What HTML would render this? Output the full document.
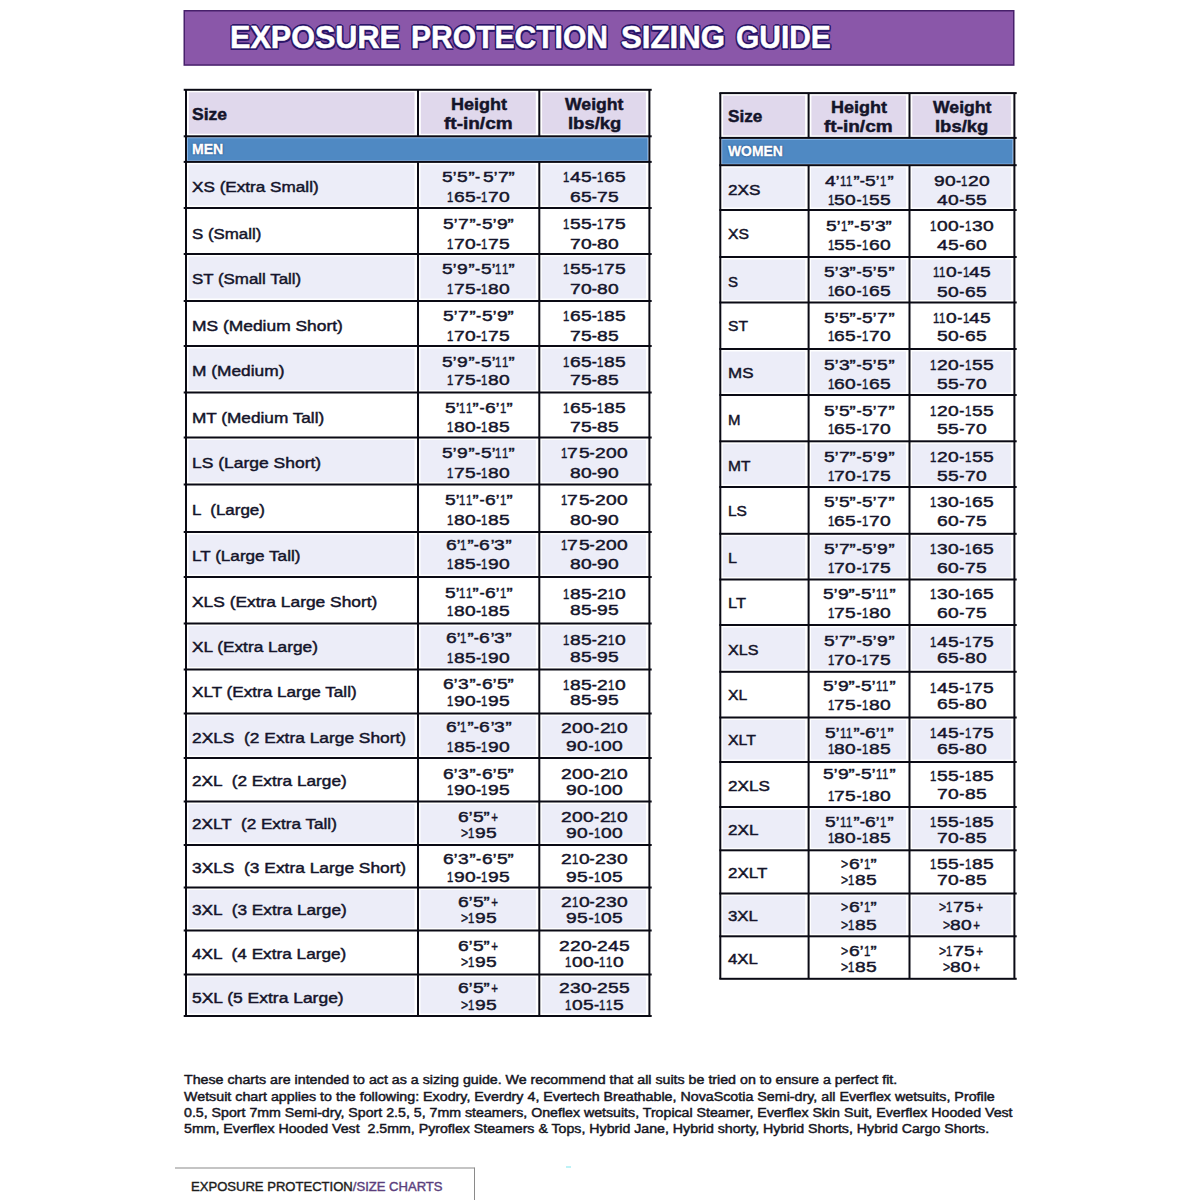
<!DOCTYPE html>
<html lang="en">
<head>
<meta charset="utf-8">
<title>Exposure Protection Sizing Guide</title>
<style>
html,body{margin:0;padding:0;background:#fff;}
body{width:1200px;height:1200px;position:relative;overflow:hidden;font-family:"Liberation Sans", sans-serif;}
#pg{position:absolute;left:0;top:0;width:1200px;height:1200px;}
svg{position:absolute;left:0;top:0;}
.t{position:absolute;white-space:nowrap;font-family:"Liberation Sans", sans-serif;transform-origin:0 50%;}
.n{font-size:15.4px;line-height:19px;height:19px;color:#14142a;white-space:pre;-webkit-text-stroke:0.45px #14142a;}
.n i{display:inline-block;font-style:normal;transform-origin:50% 50%;}
.n .d{transform:scaleX(1.25);margin:0 1.243px}
.n .o{transform:scaleX(0.74);margin:0 -0.982px}
.n .h{transform:scaleX(1.0);margin:0 0.236px}
.n .q{transform:scaleX(1.1);margin:0 0.291px}
.n .Q{transform:scaleX(1.2);margin:0 0.736px}
.n .g{transform:scaleX(0.8);margin:0 -0.797px}
.n .p{transform:scaleX(0.75);margin:0 0.353px}
.n .s{transform:scaleX(1.0);margin:0 -1.139px}
</style>
</head>
<body>
<div id="pg">
<svg width="1200" height="1200" viewBox="0 0 1200 1200">
<rect x="183.50" y="10.00" width="831.00" height="55.80" fill="#47206b" />
<rect x="185.00" y="11.50" width="828.00" height="52.80" fill="#8a57a9" />
<rect x="188.80" y="92.30" width="225.70" height="41.50" fill="#e0d8ec" />
<rect x="420.80" y="92.30" width="115.00" height="41.50" fill="#e0d8ec" />
<rect x="542.10" y="92.30" width="103.80" height="41.50" fill="#e0d8ec" />
<rect x="187.00" y="137.30" width="461.40" height="23.60" fill="#8ab7e8" />
<rect x="188.00" y="138.30" width="459.20" height="22.00" fill="#4f89c3" />
<rect x="188.50" y="164.40" width="226.00" height="41.10" fill="#ecedf8" />
<rect x="420.50" y="164.40" width="115.30" height="41.10" fill="#ecedf8" />
<rect x="541.80" y="164.40" width="104.10" height="41.10" fill="#ecedf8" />
<rect x="188.50" y="256.50" width="226.00" height="42.00" fill="#ecedf8" />
<rect x="420.50" y="256.50" width="115.30" height="42.00" fill="#ecedf8" />
<rect x="541.80" y="256.50" width="104.10" height="42.00" fill="#ecedf8" />
<rect x="188.50" y="348.50" width="226.00" height="41.50" fill="#ecedf8" />
<rect x="420.50" y="348.50" width="115.30" height="41.50" fill="#ecedf8" />
<rect x="541.80" y="348.50" width="104.10" height="41.50" fill="#ecedf8" />
<rect x="188.50" y="440.00" width="226.00" height="42.00" fill="#ecedf8" />
<rect x="420.50" y="440.00" width="115.30" height="42.00" fill="#ecedf8" />
<rect x="541.80" y="440.00" width="104.10" height="42.00" fill="#ecedf8" />
<rect x="188.50" y="534.50" width="226.00" height="40.00" fill="#ecedf8" />
<rect x="420.50" y="534.50" width="115.30" height="40.00" fill="#ecedf8" />
<rect x="541.80" y="534.50" width="104.10" height="40.00" fill="#ecedf8" />
<rect x="188.50" y="626.00" width="226.00" height="41.00" fill="#ecedf8" />
<rect x="420.50" y="626.00" width="115.30" height="41.00" fill="#ecedf8" />
<rect x="541.80" y="626.00" width="104.10" height="41.00" fill="#ecedf8" />
<rect x="188.50" y="716.00" width="226.00" height="39.50" fill="#ecedf8" />
<rect x="420.50" y="716.00" width="115.30" height="39.50" fill="#ecedf8" />
<rect x="541.80" y="716.00" width="104.10" height="39.50" fill="#ecedf8" />
<rect x="188.50" y="804.00" width="226.00" height="38.50" fill="#ecedf8" />
<rect x="420.50" y="804.00" width="115.30" height="38.50" fill="#ecedf8" />
<rect x="541.80" y="804.00" width="104.10" height="38.50" fill="#ecedf8" />
<rect x="188.50" y="890.00" width="226.00" height="38.00" fill="#ecedf8" />
<rect x="420.50" y="890.00" width="115.30" height="38.00" fill="#ecedf8" />
<rect x="541.80" y="890.00" width="104.10" height="38.00" fill="#ecedf8" />
<rect x="188.50" y="977.00" width="226.00" height="36.50" fill="#ecedf8" />
<rect x="420.50" y="977.00" width="115.30" height="36.50" fill="#ecedf8" />
<rect x="541.80" y="977.00" width="104.10" height="36.50" fill="#ecedf8" />
<rect x="183.70" y="88.80" width="468.00" height="2.00" fill="#0a0a14" />
<rect x="183.70" y="135.30" width="468.00" height="2.00" fill="#0a0a14" />
<rect x="183.70" y="160.90" width="468.00" height="2.00" fill="#0a0a14" />
<rect x="183.70" y="207.00" width="468.00" height="2.00" fill="#0a0a14" />
<rect x="183.70" y="253.00" width="468.00" height="2.00" fill="#0a0a14" />
<rect x="183.70" y="300.00" width="468.00" height="2.00" fill="#0a0a14" />
<rect x="183.70" y="345.00" width="468.00" height="2.00" fill="#0a0a14" />
<rect x="183.70" y="391.50" width="468.00" height="2.00" fill="#0a0a14" />
<rect x="183.70" y="436.50" width="468.00" height="2.00" fill="#0a0a14" />
<rect x="183.70" y="483.50" width="468.00" height="2.00" fill="#0a0a14" />
<rect x="183.70" y="531.00" width="468.00" height="2.00" fill="#0a0a14" />
<rect x="183.70" y="576.00" width="468.00" height="2.00" fill="#0a0a14" />
<rect x="183.70" y="622.50" width="468.00" height="2.00" fill="#0a0a14" />
<rect x="183.70" y="668.50" width="468.00" height="2.00" fill="#0a0a14" />
<rect x="183.70" y="712.50" width="468.00" height="2.00" fill="#0a0a14" />
<rect x="183.70" y="757.00" width="468.00" height="2.00" fill="#0a0a14" />
<rect x="183.70" y="800.50" width="468.00" height="2.00" fill="#0a0a14" />
<rect x="183.70" y="844.00" width="468.00" height="2.00" fill="#0a0a14" />
<rect x="183.70" y="886.50" width="468.00" height="2.00" fill="#0a0a14" />
<rect x="183.70" y="929.50" width="468.00" height="2.00" fill="#0a0a14" />
<rect x="183.70" y="973.50" width="468.00" height="2.00" fill="#0a0a14" />
<rect x="183.70" y="1015.00" width="468.00" height="2.00" fill="#0a0a14" />
<rect x="185.00" y="89.80" width="2.00" height="926.20" fill="#0a0a14" />
<rect x="417.00" y="89.80" width="2.00" height="46.50" fill="#0a0a14" />
<rect x="417.00" y="161.90" width="2.00" height="854.10" fill="#0a0a14" />
<rect x="538.30" y="89.80" width="2.00" height="46.50" fill="#0a0a14" />
<rect x="538.30" y="161.90" width="2.00" height="854.10" fill="#0a0a14" />
<rect x="648.40" y="89.80" width="2.00" height="926.20" fill="#0a0a14" />
<rect x="723.10" y="95.60" width="82.00" height="39.80" fill="#e0d8ec" />
<rect x="811.40" y="95.60" width="94.60" height="39.80" fill="#e0d8ec" />
<rect x="912.30" y="95.60" width="98.60" height="39.80" fill="#e0d8ec" />
<rect x="721.30" y="138.90" width="292.10" height="25.30" fill="#8ab7e8" />
<rect x="722.30" y="139.90" width="289.90" height="23.70" fill="#4f89c3" />
<rect x="722.80" y="167.70" width="82.30" height="39.80" fill="#ecedf8" />
<rect x="811.10" y="167.70" width="94.90" height="39.80" fill="#ecedf8" />
<rect x="912.00" y="167.70" width="98.90" height="39.80" fill="#ecedf8" />
<rect x="722.80" y="259.50" width="82.30" height="40.50" fill="#ecedf8" />
<rect x="811.10" y="259.50" width="94.90" height="40.50" fill="#ecedf8" />
<rect x="912.00" y="259.50" width="98.90" height="40.50" fill="#ecedf8" />
<rect x="722.80" y="351.50" width="82.30" height="41.00" fill="#ecedf8" />
<rect x="811.10" y="351.50" width="94.90" height="41.00" fill="#ecedf8" />
<rect x="912.00" y="351.50" width="98.90" height="41.00" fill="#ecedf8" />
<rect x="722.80" y="443.80" width="82.30" height="40.70" fill="#ecedf8" />
<rect x="811.10" y="443.80" width="94.90" height="40.70" fill="#ecedf8" />
<rect x="912.00" y="443.80" width="98.90" height="40.70" fill="#ecedf8" />
<rect x="722.80" y="536.30" width="82.30" height="40.70" fill="#ecedf8" />
<rect x="811.10" y="536.30" width="94.90" height="40.70" fill="#ecedf8" />
<rect x="912.00" y="536.30" width="98.90" height="40.70" fill="#ecedf8" />
<rect x="722.80" y="627.50" width="82.30" height="41.80" fill="#ecedf8" />
<rect x="811.10" y="627.50" width="94.90" height="41.80" fill="#ecedf8" />
<rect x="912.00" y="627.50" width="98.90" height="41.80" fill="#ecedf8" />
<rect x="722.80" y="720.00" width="82.30" height="39.50" fill="#ecedf8" />
<rect x="811.10" y="720.00" width="94.90" height="39.50" fill="#ecedf8" />
<rect x="912.00" y="720.00" width="98.90" height="39.50" fill="#ecedf8" />
<rect x="722.80" y="809.50" width="82.30" height="38.30" fill="#ecedf8" />
<rect x="811.10" y="809.50" width="94.90" height="38.30" fill="#ecedf8" />
<rect x="912.00" y="809.50" width="98.90" height="38.30" fill="#ecedf8" />
<rect x="722.80" y="896.00" width="82.30" height="37.80" fill="#ecedf8" />
<rect x="811.10" y="896.00" width="94.90" height="37.80" fill="#ecedf8" />
<rect x="912.00" y="896.00" width="98.90" height="37.80" fill="#ecedf8" />
<rect x="719.30" y="92.10" width="297.40" height="2.00" fill="#0a0a14" />
<rect x="719.30" y="136.90" width="297.40" height="2.00" fill="#0a0a14" />
<rect x="719.30" y="164.20" width="297.40" height="2.00" fill="#0a0a14" />
<rect x="719.30" y="209.00" width="297.40" height="2.00" fill="#0a0a14" />
<rect x="719.30" y="256.00" width="297.40" height="2.00" fill="#0a0a14" />
<rect x="719.30" y="301.50" width="297.40" height="2.00" fill="#0a0a14" />
<rect x="719.30" y="348.00" width="297.40" height="2.00" fill="#0a0a14" />
<rect x="719.30" y="394.00" width="297.40" height="2.00" fill="#0a0a14" />
<rect x="719.30" y="440.30" width="297.40" height="2.00" fill="#0a0a14" />
<rect x="719.30" y="486.00" width="297.40" height="2.00" fill="#0a0a14" />
<rect x="719.30" y="532.80" width="297.40" height="2.00" fill="#0a0a14" />
<rect x="719.30" y="578.50" width="297.40" height="2.00" fill="#0a0a14" />
<rect x="719.30" y="624.00" width="297.40" height="2.00" fill="#0a0a14" />
<rect x="719.30" y="670.80" width="297.40" height="2.00" fill="#0a0a14" />
<rect x="719.30" y="716.50" width="297.40" height="2.00" fill="#0a0a14" />
<rect x="719.30" y="761.00" width="297.40" height="2.00" fill="#0a0a14" />
<rect x="719.30" y="806.00" width="297.40" height="2.00" fill="#0a0a14" />
<rect x="719.30" y="849.30" width="297.40" height="2.00" fill="#0a0a14" />
<rect x="719.30" y="892.50" width="297.40" height="2.00" fill="#0a0a14" />
<rect x="719.30" y="935.30" width="297.40" height="2.00" fill="#0a0a14" />
<rect x="719.30" y="977.80" width="297.40" height="2.00" fill="#0a0a14" />
<rect x="719.30" y="93.10" width="2.00" height="885.70" fill="#0a0a14" />
<rect x="807.60" y="93.10" width="2.00" height="44.80" fill="#0a0a14" />
<rect x="807.60" y="165.20" width="2.00" height="813.60" fill="#0a0a14" />
<rect x="908.50" y="93.10" width="2.00" height="44.80" fill="#0a0a14" />
<rect x="908.50" y="165.20" width="2.00" height="813.60" fill="#0a0a14" />
<rect x="1013.40" y="93.10" width="2.00" height="885.70" fill="#0a0a14" />
<rect x="175.00" y="1167.50" width="299.50" height="1.00" fill="#8a8a8a" />
<rect x="474.00" y="1167.50" width="1.00" height="33.00" fill="#8a8a8a" />
<rect x="566.00" y="1166.50" width="5.00" height="1.00" fill="#7fe6ee" />
</svg>
<div class="t" style="left:229.70px;top:18px;line-height:38px;height:38px;transform:scaleX(0.9498);font-size:32.2px;font-weight:700;color:#ffffff;-webkit-text-stroke:0.5px #fff;text-shadow:1.5px 1.5px 0 #2a1668,-1.5px -1.5px 0 #2a1668,1.5px -1.5px 0 #2a1668,-1.5px 1.5px 0 #2a1668,0 1.7px 0 #2a1668,1.7px 0 0 #2a1668,-1.7px 0 0 #2a1668,0 -1.7px 0 #2a1668;">EXPOSURE</div>
<div class="t" style="left:411.20px;top:18px;line-height:38px;height:38px;transform:scaleX(0.9338);font-size:32.2px;font-weight:700;color:#ffffff;-webkit-text-stroke:0.5px #fff;text-shadow:1.5px 1.5px 0 #2a1668,-1.5px -1.5px 0 #2a1668,1.5px -1.5px 0 #2a1668,-1.5px 1.5px 0 #2a1668,0 1.7px 0 #2a1668,1.7px 0 0 #2a1668,-1.7px 0 0 #2a1668,0 -1.7px 0 #2a1668;">PROTECTION</div>
<div class="t" style="left:620.50px;top:18px;line-height:38px;height:38px;transform:scaleX(0.9694);font-size:32.2px;font-weight:700;color:#ffffff;-webkit-text-stroke:0.5px #fff;text-shadow:1.5px 1.5px 0 #2a1668,-1.5px -1.5px 0 #2a1668,1.5px -1.5px 0 #2a1668,-1.5px 1.5px 0 #2a1668,0 1.7px 0 #2a1668,1.7px 0 0 #2a1668,-1.7px 0 0 #2a1668,0 -1.7px 0 #2a1668;">SIZING</div>
<div class="t" style="left:735.50px;top:18px;line-height:38px;height:38px;transform:scaleX(0.9302);font-size:32.2px;font-weight:700;color:#ffffff;-webkit-text-stroke:0.5px #fff;text-shadow:1.5px 1.5px 0 #2a1668,-1.5px -1.5px 0 #2a1668,1.5px -1.5px 0 #2a1668,-1.5px 1.5px 0 #2a1668,0 1.7px 0 #2a1668,1.7px 0 0 #2a1668,-1.7px 0 0 #2a1668,0 -1.7px 0 #2a1668;">GUIDE</div>
<div class="t" style="left:192.00px;top:104px;line-height:20px;height:20px;transform:scaleX(1.0606);font-size:16.5px;font-weight:700;color:#14142a;-webkit-text-stroke:0.45px #14142a;">Size</div>
<div class="t" style="left:450.65px;top:94px;line-height:20px;height:20px;transform:scaleX(1.0913);font-size:16.5px;font-weight:700;color:#14142a;-webkit-text-stroke:0.45px #14142a;">Height</div>
<div class="t" style="left:443.85px;top:113px;line-height:20px;height:20px;transform:scaleX(1.1517);font-size:16.5px;font-weight:700;color:#14142a;-webkit-text-stroke:0.45px #14142a;">ft-in/cm</div>
<div class="t" style="left:565.10px;top:94px;line-height:20px;height:20px;transform:scaleX(1.0695);font-size:16.5px;font-weight:700;color:#14142a;-webkit-text-stroke:0.45px #14142a;">Weight</div>
<div class="t" style="left:567.70px;top:113px;line-height:20px;height:20px;transform:scaleX(1.1178);font-size:16.5px;font-weight:700;color:#14142a;-webkit-text-stroke:0.45px #14142a;">lbs/kg</div>
<div class="t" style="left:192.30px;top:140px;line-height:18px;height:18px;transform:scaleX(1.0039);font-size:14.0px;font-weight:700;color:#ffffff;-webkit-text-stroke:0.4px #fff;text-shadow:0 0 2px #17407c,0 0 1.5px #17407c;">MEN</div>
<div class="t" style="left:192.00px;top:177px;line-height:19px;height:19px;transform:scaleX(1.1288);font-size:15.2px;font-weight:400;color:#14142a;white-space:pre;-webkit-text-stroke:0.45px #14142a;">XS (Extra Small)</div>
<div class="t n" style="left:442.15px;top:167px"><i class="d">5</i><i class="q">’</i><i class="d">5</i><i class="Q">”</i><i class="h">-</i><i class="s"> </i><i class="d">5</i><i class="q">’</i><i class="d">7</i><i class="Q">”</i></div>
<div class="t n" style="left:447.15px;top:187px"><i class="o">1</i><i class="d">6</i><i class="d">5</i><i class="h">-</i><i class="o">1</i><i class="d">7</i><i class="d">0</i></div>
<div class="t n" style="left:562.85px;top:167px"><i class="o">1</i><i class="d">4</i><i class="d">5</i><i class="h">-</i><i class="o">1</i><i class="d">6</i><i class="d">5</i></div>
<div class="t n" style="left:569.45px;top:187px"><i class="d">6</i><i class="d">5</i><i class="h">-</i><i class="d">7</i><i class="d">5</i></div>
<div class="t" style="left:192.00px;top:224px;line-height:19px;height:19px;transform:scaleX(1.1109);font-size:15.2px;font-weight:400;color:#14142a;white-space:pre;-webkit-text-stroke:0.45px #14142a;">S (Small)</div>
<div class="t n" style="left:443.15px;top:214px"><i class="d">5</i><i class="q">’</i><i class="d">7</i><i class="Q">”</i><i class="h">-</i><i class="d">5</i><i class="q">’</i><i class="d">9</i><i class="Q">”</i></div>
<div class="t n" style="left:447.15px;top:234px"><i class="o">1</i><i class="d">7</i><i class="d">0</i><i class="h">-</i><i class="o">1</i><i class="d">7</i><i class="d">5</i></div>
<div class="t n" style="left:562.85px;top:214px"><i class="o">1</i><i class="d">5</i><i class="d">5</i><i class="h">-</i><i class="o">1</i><i class="d">7</i><i class="d">5</i></div>
<div class="t n" style="left:569.45px;top:234px"><i class="d">7</i><i class="d">0</i><i class="h">-</i><i class="d">8</i><i class="d">0</i></div>
<div class="t" style="left:192.00px;top:269px;line-height:19px;height:19px;transform:scaleX(1.1123);font-size:15.2px;font-weight:400;color:#14142a;white-space:pre;-webkit-text-stroke:0.45px #14142a;">ST (Small Tall)</div>
<div class="t n" style="left:442.07px;top:259px"><i class="d">5</i><i class="q">’</i><i class="d">9</i><i class="Q">”</i><i class="h">-</i><i class="d">5</i><i class="q">’</i><i class="o">1</i><i class="o">1</i><i class="Q">”</i></div>
<div class="t n" style="left:447.15px;top:279px"><i class="o">1</i><i class="d">7</i><i class="d">5</i><i class="h">-</i><i class="o">1</i><i class="d">8</i><i class="d">0</i></div>
<div class="t n" style="left:562.85px;top:259px"><i class="o">1</i><i class="d">5</i><i class="d">5</i><i class="h">-</i><i class="o">1</i><i class="d">7</i><i class="d">5</i></div>
<div class="t n" style="left:569.45px;top:279px"><i class="d">7</i><i class="d">0</i><i class="h">-</i><i class="d">8</i><i class="d">0</i></div>
<div class="t" style="left:192.00px;top:316px;line-height:19px;height:19px;transform:scaleX(1.1458);font-size:15.2px;font-weight:400;color:#14142a;white-space:pre;-webkit-text-stroke:0.45px #14142a;">MS (Medium Short)</div>
<div class="t n" style="left:443.15px;top:306px"><i class="d">5</i><i class="q">’</i><i class="d">7</i><i class="Q">”</i><i class="h">-</i><i class="d">5</i><i class="q">’</i><i class="d">9</i><i class="Q">”</i></div>
<div class="t n" style="left:447.15px;top:326px"><i class="o">1</i><i class="d">7</i><i class="d">0</i><i class="h">-</i><i class="o">1</i><i class="d">7</i><i class="d">5</i></div>
<div class="t n" style="left:562.85px;top:306px"><i class="o">1</i><i class="d">6</i><i class="d">5</i><i class="h">-</i><i class="o">1</i><i class="d">8</i><i class="d">5</i></div>
<div class="t n" style="left:569.45px;top:326px"><i class="d">7</i><i class="d">5</i><i class="h">-</i><i class="d">8</i><i class="d">5</i></div>
<div class="t" style="left:192.00px;top:361px;line-height:19px;height:19px;transform:scaleX(1.1407);font-size:15.2px;font-weight:400;color:#14142a;white-space:pre;-webkit-text-stroke:0.45px #14142a;">M (Medium)</div>
<div class="t n" style="left:442.07px;top:352px"><i class="d">5</i><i class="q">’</i><i class="d">9</i><i class="Q">”</i><i class="h">-</i><i class="d">5</i><i class="q">’</i><i class="o">1</i><i class="o">1</i><i class="Q">”</i></div>
<div class="t n" style="left:447.15px;top:370px"><i class="o">1</i><i class="d">7</i><i class="d">5</i><i class="h">-</i><i class="o">1</i><i class="d">8</i><i class="d">0</i></div>
<div class="t n" style="left:562.85px;top:352px"><i class="o">1</i><i class="d">6</i><i class="d">5</i><i class="h">-</i><i class="o">1</i><i class="d">8</i><i class="d">5</i></div>
<div class="t n" style="left:569.45px;top:370px"><i class="d">7</i><i class="d">5</i><i class="h">-</i><i class="d">8</i><i class="d">5</i></div>
<div class="t" style="left:192.00px;top:408px;line-height:19px;height:19px;transform:scaleX(1.1326);font-size:15.2px;font-weight:400;color:#14142a;white-space:pre;-webkit-text-stroke:0.45px #14142a;">MT (Medium Tall)</div>
<div class="t n" style="left:444.30px;top:398px"><i class="d">5</i><i class="q">’</i><i class="o">1</i><i class="o">1</i><i class="Q">”</i><i class="h">-</i><i class="d">6</i><i class="q">’</i><i class="o">1</i><i class="Q">”</i></div>
<div class="t n" style="left:447.15px;top:417px"><i class="o">1</i><i class="d">8</i><i class="d">0</i><i class="h">-</i><i class="o">1</i><i class="d">8</i><i class="d">5</i></div>
<div class="t n" style="left:562.85px;top:398px"><i class="o">1</i><i class="d">6</i><i class="d">5</i><i class="h">-</i><i class="o">1</i><i class="d">8</i><i class="d">5</i></div>
<div class="t n" style="left:569.45px;top:417px"><i class="d">7</i><i class="d">5</i><i class="h">-</i><i class="d">8</i><i class="d">5</i></div>
<div class="t" style="left:192.00px;top:453px;line-height:19px;height:19px;transform:scaleX(1.1503);font-size:15.2px;font-weight:400;color:#14142a;white-space:pre;-webkit-text-stroke:0.45px #14142a;">LS (Large Short)</div>
<div class="t n" style="left:442.07px;top:443px"><i class="d">5</i><i class="q">’</i><i class="d">9</i><i class="Q">”</i><i class="h">-</i><i class="d">5</i><i class="q">’</i><i class="o">1</i><i class="o">1</i><i class="Q">”</i></div>
<div class="t n" style="left:447.15px;top:463px"><i class="o">1</i><i class="d">7</i><i class="d">5</i><i class="h">-</i><i class="o">1</i><i class="d">8</i><i class="d">0</i></div>
<div class="t n" style="left:560.62px;top:443px"><i class="o">1</i><i class="d">7</i><i class="d">5</i><i class="h">-</i><i class="d">2</i><i class="d">0</i><i class="d">0</i></div>
<div class="t n" style="left:569.45px;top:463px"><i class="d">8</i><i class="d">0</i><i class="h">-</i><i class="d">9</i><i class="d">0</i></div>
<div class="t" style="left:192.00px;top:500px;line-height:19px;height:19px;transform:scaleX(1.1169);font-size:15.2px;font-weight:400;color:#14142a;white-space:pre;-webkit-text-stroke:0.45px #14142a;">L  (Large)</div>
<div class="t n" style="left:444.30px;top:490px"><i class="d">5</i><i class="q">’</i><i class="o">1</i><i class="o">1</i><i class="Q">”</i><i class="h">-</i><i class="d">6</i><i class="q">’</i><i class="o">1</i><i class="Q">”</i></div>
<div class="t n" style="left:447.15px;top:510px"><i class="o">1</i><i class="d">8</i><i class="d">0</i><i class="h">-</i><i class="o">1</i><i class="d">8</i><i class="d">5</i></div>
<div class="t n" style="left:560.62px;top:490px"><i class="o">1</i><i class="d">7</i><i class="d">5</i><i class="h">-</i><i class="d">2</i><i class="d">0</i><i class="d">0</i></div>
<div class="t n" style="left:569.45px;top:510px"><i class="d">8</i><i class="d">0</i><i class="h">-</i><i class="d">9</i><i class="d">0</i></div>
<div class="t" style="left:192.00px;top:546px;line-height:19px;height:19px;transform:scaleX(1.1268);font-size:15.2px;font-weight:400;color:#14142a;white-space:pre;-webkit-text-stroke:0.45px #14142a;">LT (Large Tall)</div>
<div class="t n" style="left:445.38px;top:535px"><i class="d">6</i><i class="q">’</i><i class="o">1</i><i class="Q">”</i><i class="h">-</i><i class="d">6</i><i class="q">’</i><i class="d">3</i><i class="Q">”</i></div>
<div class="t n" style="left:447.15px;top:554px"><i class="o">1</i><i class="d">8</i><i class="d">5</i><i class="h">-</i><i class="o">1</i><i class="d">9</i><i class="d">0</i></div>
<div class="t n" style="left:560.62px;top:535px"><i class="o">1</i><i class="d">7</i><i class="d">5</i><i class="h">-</i><i class="d">2</i><i class="d">0</i><i class="d">0</i></div>
<div class="t n" style="left:569.45px;top:554px"><i class="d">8</i><i class="d">0</i><i class="h">-</i><i class="d">9</i><i class="d">0</i></div>
<div class="t" style="left:192.00px;top:592px;line-height:19px;height:19px;transform:scaleX(1.1438);font-size:15.2px;font-weight:400;color:#14142a;white-space:pre;-webkit-text-stroke:0.45px #14142a;">XLS (Extra Large Short)</div>
<div class="t n" style="left:444.30px;top:583px"><i class="d">5</i><i class="q">’</i><i class="o">1</i><i class="o">1</i><i class="Q">”</i><i class="h">-</i><i class="d">6</i><i class="q">’</i><i class="o">1</i><i class="Q">”</i></div>
<div class="t n" style="left:447.15px;top:601px"><i class="o">1</i><i class="d">8</i><i class="d">0</i><i class="h">-</i><i class="o">1</i><i class="d">8</i><i class="d">5</i></div>
<div class="t n" style="left:562.85px;top:584px"><i class="o">1</i><i class="d">8</i><i class="d">5</i><i class="h">-</i><i class="d">2</i><i class="o">1</i><i class="d">0</i></div>
<div class="t n" style="left:569.45px;top:600px"><i class="d">8</i><i class="d">5</i><i class="h">-</i><i class="d">9</i><i class="d">5</i></div>
<div class="t" style="left:192.00px;top:637px;line-height:19px;height:19px;transform:scaleX(1.1355);font-size:15.2px;font-weight:400;color:#14142a;white-space:pre;-webkit-text-stroke:0.45px #14142a;">XL (Extra Large)</div>
<div class="t n" style="left:445.38px;top:628px"><i class="d">6</i><i class="q">’</i><i class="o">1</i><i class="Q">”</i><i class="h">-</i><i class="d">6</i><i class="q">’</i><i class="d">3</i><i class="Q">”</i></div>
<div class="t n" style="left:447.15px;top:648px"><i class="o">1</i><i class="d">8</i><i class="d">5</i><i class="h">-</i><i class="o">1</i><i class="d">9</i><i class="d">0</i></div>
<div class="t n" style="left:562.85px;top:630px"><i class="o">1</i><i class="d">8</i><i class="d">5</i><i class="h">-</i><i class="d">2</i><i class="o">1</i><i class="d">0</i></div>
<div class="t n" style="left:569.45px;top:647px"><i class="d">8</i><i class="d">5</i><i class="h">-</i><i class="d">9</i><i class="d">5</i></div>
<div class="t" style="left:192.00px;top:682px;line-height:19px;height:19px;transform:scaleX(1.1276);font-size:15.2px;font-weight:400;color:#14142a;white-space:pre;-webkit-text-stroke:0.45px #14142a;">XLT (Extra Large Tall)</div>
<div class="t n" style="left:443.15px;top:674px"><i class="d">6</i><i class="q">’</i><i class="d">3</i><i class="Q">”</i><i class="h">-</i><i class="d">6</i><i class="q">’</i><i class="d">5</i><i class="Q">”</i></div>
<div class="t n" style="left:447.15px;top:691px"><i class="o">1</i><i class="d">9</i><i class="d">0</i><i class="h">-</i><i class="o">1</i><i class="d">9</i><i class="d">5</i></div>
<div class="t n" style="left:562.85px;top:675px"><i class="o">1</i><i class="d">8</i><i class="d">5</i><i class="h">-</i><i class="d">2</i><i class="o">1</i><i class="d">0</i></div>
<div class="t n" style="left:569.45px;top:690px"><i class="d">8</i><i class="d">5</i><i class="h">-</i><i class="d">9</i><i class="d">5</i></div>
<div class="t" style="left:192.00px;top:728px;line-height:19px;height:19px;transform:scaleX(1.1425);font-size:15.2px;font-weight:400;color:#14142a;white-space:pre;-webkit-text-stroke:0.45px #14142a;">2XLS  (2 Extra Large Short)</div>
<div class="t n" style="left:445.38px;top:717px"><i class="d">6</i><i class="q">’</i><i class="o">1</i><i class="Q">”</i><i class="h">-</i><i class="d">6</i><i class="q">’</i><i class="d">3</i><i class="Q">”</i></div>
<div class="t n" style="left:447.15px;top:737px"><i class="o">1</i><i class="d">8</i><i class="d">5</i><i class="h">-</i><i class="o">1</i><i class="d">9</i><i class="d">0</i></div>
<div class="t n" style="left:560.62px;top:718px"><i class="d">2</i><i class="d">0</i><i class="d">0</i><i class="h">-</i><i class="d">2</i><i class="o">1</i><i class="d">0</i></div>
<div class="t n" style="left:566.15px;top:736px"><i class="d">9</i><i class="d">0</i><i class="h">-</i><i class="o">1</i><i class="d">0</i><i class="d">0</i></div>
<div class="t" style="left:192.00px;top:771px;line-height:19px;height:19px;transform:scaleX(1.1368);font-size:15.2px;font-weight:400;color:#14142a;white-space:pre;-webkit-text-stroke:0.45px #14142a;">2XL  (2 Extra Large)</div>
<div class="t n" style="left:443.15px;top:764px"><i class="d">6</i><i class="q">’</i><i class="d">3</i><i class="Q">”</i><i class="h">-</i><i class="d">6</i><i class="q">’</i><i class="d">5</i><i class="Q">”</i></div>
<div class="t n" style="left:447.15px;top:780px"><i class="o">1</i><i class="d">9</i><i class="d">0</i><i class="h">-</i><i class="o">1</i><i class="d">9</i><i class="d">5</i></div>
<div class="t n" style="left:560.62px;top:764px"><i class="d">2</i><i class="d">0</i><i class="d">0</i><i class="h">-</i><i class="d">2</i><i class="o">1</i><i class="d">0</i></div>
<div class="t n" style="left:566.15px;top:780px"><i class="d">9</i><i class="d">0</i><i class="h">-</i><i class="o">1</i><i class="d">0</i><i class="d">0</i></div>
<div class="t" style="left:192.00px;top:814px;line-height:19px;height:19px;transform:scaleX(1.1289);font-size:15.2px;font-weight:400;color:#14142a;white-space:pre;-webkit-text-stroke:0.45px #14142a;">2XLT  (2 Extra Tall)</div>
<div class="t n" style="left:457.45px;top:807px"><i class="d">6</i><i class="q">’</i><i class="d">5</i><i class="Q">”</i><i class="p">+</i></div>
<div class="t n" style="left:460.60px;top:823px"><i class="g">&gt;</i><i class="o">1</i><i class="d">9</i><i class="d">5</i></div>
<div class="t n" style="left:560.62px;top:807px"><i class="d">2</i><i class="d">0</i><i class="d">0</i><i class="h">-</i><i class="d">2</i><i class="o">1</i><i class="d">0</i></div>
<div class="t n" style="left:566.15px;top:823px"><i class="d">9</i><i class="d">0</i><i class="h">-</i><i class="o">1</i><i class="d">0</i><i class="d">0</i></div>
<div class="t" style="left:192.00px;top:858px;line-height:19px;height:19px;transform:scaleX(1.1425);font-size:15.2px;font-weight:400;color:#14142a;white-space:pre;-webkit-text-stroke:0.45px #14142a;">3XLS  (3 Extra Large Short)</div>
<div class="t n" style="left:443.15px;top:849px"><i class="d">6</i><i class="q">’</i><i class="d">3</i><i class="Q">”</i><i class="h">-</i><i class="d">6</i><i class="q">’</i><i class="d">5</i><i class="Q">”</i></div>
<div class="t n" style="left:447.15px;top:867px"><i class="o">1</i><i class="d">9</i><i class="d">0</i><i class="h">-</i><i class="o">1</i><i class="d">9</i><i class="d">5</i></div>
<div class="t n" style="left:560.62px;top:849px"><i class="d">2</i><i class="o">1</i><i class="d">0</i><i class="h">-</i><i class="d">2</i><i class="d">3</i><i class="d">0</i></div>
<div class="t n" style="left:566.15px;top:867px"><i class="d">9</i><i class="d">5</i><i class="h">-</i><i class="o">1</i><i class="d">0</i><i class="d">5</i></div>
<div class="t" style="left:192.00px;top:900px;line-height:19px;height:19px;transform:scaleX(1.1368);font-size:15.2px;font-weight:400;color:#14142a;white-space:pre;-webkit-text-stroke:0.45px #14142a;">3XL  (3 Extra Large)</div>
<div class="t n" style="left:457.45px;top:892px"><i class="d">6</i><i class="q">’</i><i class="d">5</i><i class="Q">”</i><i class="p">+</i></div>
<div class="t n" style="left:460.60px;top:908px"><i class="g">&gt;</i><i class="o">1</i><i class="d">9</i><i class="d">5</i></div>
<div class="t n" style="left:560.62px;top:892px"><i class="d">2</i><i class="o">1</i><i class="d">0</i><i class="h">-</i><i class="d">2</i><i class="d">3</i><i class="d">0</i></div>
<div class="t n" style="left:566.15px;top:908px"><i class="d">9</i><i class="d">5</i><i class="h">-</i><i class="o">1</i><i class="d">0</i><i class="d">5</i></div>
<div class="t" style="left:192.00px;top:944px;line-height:19px;height:19px;transform:scaleX(1.1332);font-size:15.2px;font-weight:400;color:#14142a;white-space:pre;-webkit-text-stroke:0.45px #14142a;">4XL  (4 Extra Large)</div>
<div class="t n" style="left:457.45px;top:936px"><i class="d">6</i><i class="q">’</i><i class="d">5</i><i class="Q">”</i><i class="p">+</i></div>
<div class="t n" style="left:460.60px;top:952px"><i class="g">&gt;</i><i class="o">1</i><i class="d">9</i><i class="d">5</i></div>
<div class="t n" style="left:558.40px;top:936px"><i class="d">2</i><i class="d">2</i><i class="d">0</i><i class="h">-</i><i class="d">2</i><i class="d">4</i><i class="d">5</i></div>
<div class="t n" style="left:565.07px;top:952px"><i class="o">1</i><i class="d">0</i><i class="d">0</i><i class="h">-</i><i class="o">1</i><i class="o">1</i><i class="d">0</i></div>
<div class="t" style="left:192.00px;top:988px;line-height:19px;height:19px;transform:scaleX(1.1492);font-size:15.2px;font-weight:400;color:#14142a;white-space:pre;-webkit-text-stroke:0.45px #14142a;">5XL (5 Extra Large)</div>
<div class="t n" style="left:457.45px;top:978px"><i class="d">6</i><i class="q">’</i><i class="d">5</i><i class="Q">”</i><i class="p">+</i></div>
<div class="t n" style="left:460.60px;top:995px"><i class="g">&gt;</i><i class="o">1</i><i class="d">9</i><i class="d">5</i></div>
<div class="t n" style="left:558.40px;top:978px"><i class="d">2</i><i class="d">3</i><i class="d">0</i><i class="h">-</i><i class="d">2</i><i class="d">5</i><i class="d">5</i></div>
<div class="t n" style="left:565.07px;top:995px"><i class="o">1</i><i class="d">0</i><i class="d">5</i><i class="h">-</i><i class="o">1</i><i class="o">1</i><i class="d">5</i></div>
<div class="t" style="left:728.00px;top:106px;line-height:20px;height:20px;transform:scaleX(1.0394);font-size:16.5px;font-weight:700;color:#14142a;-webkit-text-stroke:0.45px #14142a;">Size</div>
<div class="t" style="left:831.05px;top:97px;line-height:20px;height:20px;transform:scaleX(1.0913);font-size:16.5px;font-weight:700;color:#14142a;-webkit-text-stroke:0.45px #14142a;">Height</div>
<div class="t" style="left:824.25px;top:116px;line-height:20px;height:20px;transform:scaleX(1.1517);font-size:16.5px;font-weight:700;color:#14142a;-webkit-text-stroke:0.45px #14142a;">ft-in/cm</div>
<div class="t" style="left:932.70px;top:97px;line-height:20px;height:20px;transform:scaleX(1.0695);font-size:16.5px;font-weight:700;color:#14142a;-webkit-text-stroke:0.45px #14142a;">Weight</div>
<div class="t" style="left:935.30px;top:116px;line-height:20px;height:20px;transform:scaleX(1.1178);font-size:16.5px;font-weight:700;color:#14142a;-webkit-text-stroke:0.45px #14142a;">lbs/kg</div>
<div class="t" style="left:727.50px;top:142px;line-height:18px;height:18px;transform:scaleX(0.9922);font-size:14.0px;font-weight:700;color:#ffffff;-webkit-text-stroke:0.4px #fff;text-shadow:0 0 2px #17407c,0 0 1.5px #17407c;">WOMEN</div>
<div class="t" style="left:728.00px;top:180px;line-height:19px;height:19px;transform:scaleX(1.1313);font-size:15.2px;font-weight:400;color:#14142a;white-space:pre;-webkit-text-stroke:0.45px #14142a;">2XS</div>
<div class="t n" style="left:824.70px;top:171px"><i class="d">4</i><i class="q">’</i><i class="o">1</i><i class="o">1</i><i class="Q">”</i><i class="h">-</i><i class="d">5</i><i class="q">’</i><i class="o">1</i><i class="Q">”</i></div>
<div class="t n" style="left:827.55px;top:190px"><i class="o">1</i><i class="d">5</i><i class="d">0</i><i class="h">-</i><i class="o">1</i><i class="d">5</i><i class="d">5</i></div>
<div class="t n" style="left:933.75px;top:171px"><i class="d">9</i><i class="d">0</i><i class="h">-</i><i class="o">1</i><i class="d">2</i><i class="d">0</i></div>
<div class="t n" style="left:937.05px;top:190px"><i class="d">4</i><i class="d">0</i><i class="h">-</i><i class="d">5</i><i class="d">5</i></div>
<div class="t" style="left:728.00px;top:224px;line-height:19px;height:19px;transform:scaleX(1.0349);font-size:15.2px;font-weight:400;color:#14142a;white-space:pre;-webkit-text-stroke:0.45px #14142a;">XS</div>
<div class="t n" style="left:825.77px;top:216px"><i class="d">5</i><i class="q">’</i><i class="o">1</i><i class="Q">”</i><i class="h">-</i><i class="d">5</i><i class="q">’</i><i class="d">3</i><i class="Q">”</i></div>
<div class="t n" style="left:827.55px;top:235px"><i class="o">1</i><i class="d">5</i><i class="d">5</i><i class="h">-</i><i class="o">1</i><i class="d">6</i><i class="d">0</i></div>
<div class="t n" style="left:930.45px;top:216px"><i class="o">1</i><i class="d">0</i><i class="d">0</i><i class="h">-</i><i class="o">1</i><i class="d">3</i><i class="d">0</i></div>
<div class="t n" style="left:937.05px;top:235px"><i class="d">4</i><i class="d">5</i><i class="h">-</i><i class="d">6</i><i class="d">0</i></div>
<div class="t" style="left:728.00px;top:272px;line-height:19px;height:19px;transform:scaleX(0.9893);font-size:15.2px;font-weight:400;color:#14142a;white-space:pre;-webkit-text-stroke:0.45px #14142a;">S</div>
<div class="t n" style="left:823.55px;top:262px"><i class="d">5</i><i class="q">’</i><i class="d">3</i><i class="Q">”</i><i class="h">-</i><i class="d">5</i><i class="q">’</i><i class="d">5</i><i class="Q">”</i></div>
<div class="t n" style="left:827.55px;top:281px"><i class="o">1</i><i class="d">6</i><i class="d">0</i><i class="h">-</i><i class="o">1</i><i class="d">6</i><i class="d">5</i></div>
<div class="t n" style="left:932.68px;top:262px"><i class="o">1</i><i class="o">1</i><i class="d">0</i><i class="h">-</i><i class="o">1</i><i class="d">4</i><i class="d">5</i></div>
<div class="t n" style="left:937.05px;top:282px"><i class="d">5</i><i class="d">0</i><i class="h">-</i><i class="d">6</i><i class="d">5</i></div>
<div class="t" style="left:728.00px;top:316px;line-height:19px;height:19px;transform:scaleX(1.0280);font-size:15.2px;font-weight:400;color:#14142a;white-space:pre;-webkit-text-stroke:0.45px #14142a;">ST</div>
<div class="t n" style="left:823.55px;top:308px"><i class="d">5</i><i class="q">’</i><i class="d">5</i><i class="Q">”</i><i class="h">-</i><i class="d">5</i><i class="q">’</i><i class="d">7</i><i class="Q">”</i></div>
<div class="t n" style="left:827.55px;top:326px"><i class="o">1</i><i class="d">6</i><i class="d">5</i><i class="h">-</i><i class="o">1</i><i class="d">7</i><i class="d">0</i></div>
<div class="t n" style="left:932.68px;top:308px"><i class="o">1</i><i class="o">1</i><i class="d">0</i><i class="h">-</i><i class="o">1</i><i class="d">4</i><i class="d">5</i></div>
<div class="t n" style="left:937.05px;top:326px"><i class="d">5</i><i class="d">0</i><i class="h">-</i><i class="d">6</i><i class="d">5</i></div>
<div class="t" style="left:728.00px;top:363px;line-height:19px;height:19px;transform:scaleX(1.1184);font-size:15.2px;font-weight:400;color:#14142a;white-space:pre;-webkit-text-stroke:0.45px #14142a;">MS</div>
<div class="t n" style="left:823.55px;top:355px"><i class="d">5</i><i class="q">’</i><i class="d">3</i><i class="Q">”</i><i class="h">-</i><i class="d">5</i><i class="q">’</i><i class="d">5</i><i class="Q">”</i></div>
<div class="t n" style="left:827.55px;top:374px"><i class="o">1</i><i class="d">6</i><i class="d">0</i><i class="h">-</i><i class="o">1</i><i class="d">6</i><i class="d">5</i></div>
<div class="t n" style="left:930.45px;top:355px"><i class="o">1</i><i class="d">2</i><i class="d">0</i><i class="h">-</i><i class="o">1</i><i class="d">5</i><i class="d">5</i></div>
<div class="t n" style="left:937.05px;top:374px"><i class="d">5</i><i class="d">5</i><i class="h">-</i><i class="d">7</i><i class="d">0</i></div>
<div class="t" style="left:728.00px;top:410px;line-height:19px;height:19px;transform:scaleX(0.9849);font-size:15.2px;font-weight:400;color:#14142a;white-space:pre;-webkit-text-stroke:0.45px #14142a;">M</div>
<div class="t n" style="left:823.55px;top:401px"><i class="d">5</i><i class="q">’</i><i class="d">5</i><i class="Q">”</i><i class="h">-</i><i class="d">5</i><i class="q">’</i><i class="d">7</i><i class="Q">”</i></div>
<div class="t n" style="left:827.55px;top:419px"><i class="o">1</i><i class="d">6</i><i class="d">5</i><i class="h">-</i><i class="o">1</i><i class="d">7</i><i class="d">0</i></div>
<div class="t n" style="left:930.45px;top:401px"><i class="o">1</i><i class="d">2</i><i class="d">0</i><i class="h">-</i><i class="o">1</i><i class="d">5</i><i class="d">5</i></div>
<div class="t n" style="left:937.05px;top:419px"><i class="d">5</i><i class="d">5</i><i class="h">-</i><i class="d">7</i><i class="d">0</i></div>
<div class="t" style="left:728.00px;top:456px;line-height:19px;height:19px;transform:scaleX(1.0244);font-size:15.2px;font-weight:400;color:#14142a;white-space:pre;-webkit-text-stroke:0.45px #14142a;">MT</div>
<div class="t n" style="left:823.55px;top:447px"><i class="d">5</i><i class="q">’</i><i class="d">7</i><i class="Q">”</i><i class="h">-</i><i class="d">5</i><i class="q">’</i><i class="d">9</i><i class="Q">”</i></div>
<div class="t n" style="left:827.55px;top:466px"><i class="o">1</i><i class="d">7</i><i class="d">0</i><i class="h">-</i><i class="o">1</i><i class="d">7</i><i class="d">5</i></div>
<div class="t n" style="left:930.45px;top:447px"><i class="o">1</i><i class="d">2</i><i class="d">0</i><i class="h">-</i><i class="o">1</i><i class="d">5</i><i class="d">5</i></div>
<div class="t n" style="left:937.05px;top:466px"><i class="d">5</i><i class="d">5</i><i class="h">-</i><i class="d">7</i><i class="d">0</i></div>
<div class="t" style="left:728.00px;top:501px;line-height:19px;height:19px;transform:scaleX(1.0204);font-size:15.2px;font-weight:400;color:#14142a;white-space:pre;-webkit-text-stroke:0.45px #14142a;">LS</div>
<div class="t n" style="left:823.55px;top:492px"><i class="d">5</i><i class="q">’</i><i class="d">5</i><i class="Q">”</i><i class="h">-</i><i class="d">5</i><i class="q">’</i><i class="d">7</i><i class="Q">”</i></div>
<div class="t n" style="left:827.55px;top:511px"><i class="o">1</i><i class="d">6</i><i class="d">5</i><i class="h">-</i><i class="o">1</i><i class="d">7</i><i class="d">0</i></div>
<div class="t n" style="left:930.45px;top:492px"><i class="o">1</i><i class="d">3</i><i class="d">0</i><i class="h">-</i><i class="o">1</i><i class="d">6</i><i class="d">5</i></div>
<div class="t n" style="left:937.05px;top:511px"><i class="d">6</i><i class="d">0</i><i class="h">-</i><i class="d">7</i><i class="d">5</i></div>
<div class="t" style="left:728.00px;top:548px;line-height:19px;height:19px;transform:scaleX(1.0669);font-size:15.2px;font-weight:400;color:#14142a;white-space:pre;-webkit-text-stroke:0.45px #14142a;">L</div>
<div class="t n" style="left:823.55px;top:539px"><i class="d">5</i><i class="q">’</i><i class="d">7</i><i class="Q">”</i><i class="h">-</i><i class="d">5</i><i class="q">’</i><i class="d">9</i><i class="Q">”</i></div>
<div class="t n" style="left:827.55px;top:558px"><i class="o">1</i><i class="d">7</i><i class="d">0</i><i class="h">-</i><i class="o">1</i><i class="d">7</i><i class="d">5</i></div>
<div class="t n" style="left:930.45px;top:539px"><i class="o">1</i><i class="d">3</i><i class="d">0</i><i class="h">-</i><i class="o">1</i><i class="d">6</i><i class="d">5</i></div>
<div class="t n" style="left:937.05px;top:558px"><i class="d">6</i><i class="d">0</i><i class="h">-</i><i class="d">7</i><i class="d">5</i></div>
<div class="t" style="left:728.00px;top:593px;line-height:19px;height:19px;transform:scaleX(1.0815);font-size:15.2px;font-weight:400;color:#14142a;white-space:pre;-webkit-text-stroke:0.45px #14142a;">LT</div>
<div class="t n" style="left:822.47px;top:584px"><i class="d">5</i><i class="q">’</i><i class="d">9</i><i class="Q">”</i><i class="h">-</i><i class="d">5</i><i class="q">’</i><i class="o">1</i><i class="o">1</i><i class="Q">”</i></div>
<div class="t n" style="left:827.55px;top:603px"><i class="o">1</i><i class="d">7</i><i class="d">5</i><i class="h">-</i><i class="o">1</i><i class="d">8</i><i class="d">0</i></div>
<div class="t n" style="left:930.45px;top:584px"><i class="o">1</i><i class="d">3</i><i class="d">0</i><i class="h">-</i><i class="o">1</i><i class="d">6</i><i class="d">5</i></div>
<div class="t n" style="left:937.05px;top:603px"><i class="d">6</i><i class="d">0</i><i class="h">-</i><i class="d">7</i><i class="d">5</i></div>
<div class="t" style="left:728.00px;top:640px;line-height:19px;height:19px;transform:scaleX(1.0617);font-size:15.2px;font-weight:400;color:#14142a;white-space:pre;-webkit-text-stroke:0.45px #14142a;">XLS</div>
<div class="t n" style="left:823.55px;top:631px"><i class="d">5</i><i class="q">’</i><i class="d">7</i><i class="Q">”</i><i class="h">-</i><i class="d">5</i><i class="q">’</i><i class="d">9</i><i class="Q">”</i></div>
<div class="t n" style="left:827.55px;top:650px"><i class="o">1</i><i class="d">7</i><i class="d">0</i><i class="h">-</i><i class="o">1</i><i class="d">7</i><i class="d">5</i></div>
<div class="t n" style="left:930.45px;top:632px"><i class="o">1</i><i class="d">4</i><i class="d">5</i><i class="h">-</i><i class="o">1</i><i class="d">7</i><i class="d">5</i></div>
<div class="t n" style="left:937.05px;top:648px"><i class="d">6</i><i class="d">5</i><i class="h">-</i><i class="d">8</i><i class="d">0</i></div>
<div class="t" style="left:728.00px;top:685px;line-height:19px;height:19px;transform:scaleX(1.0365);font-size:15.2px;font-weight:400;color:#14142a;white-space:pre;-webkit-text-stroke:0.45px #14142a;">XL</div>
<div class="t n" style="left:822.47px;top:676px"><i class="d">5</i><i class="q">’</i><i class="d">9</i><i class="Q">”</i><i class="h">-</i><i class="d">5</i><i class="q">’</i><i class="o">1</i><i class="o">1</i><i class="Q">”</i></div>
<div class="t n" style="left:827.55px;top:695px"><i class="o">1</i><i class="d">7</i><i class="d">5</i><i class="h">-</i><i class="o">1</i><i class="d">8</i><i class="d">0</i></div>
<div class="t n" style="left:930.45px;top:678px"><i class="o">1</i><i class="d">4</i><i class="d">5</i><i class="h">-</i><i class="o">1</i><i class="d">7</i><i class="d">5</i></div>
<div class="t n" style="left:937.05px;top:694px"><i class="d">6</i><i class="d">5</i><i class="h">-</i><i class="d">8</i><i class="d">0</i></div>
<div class="t" style="left:728.00px;top:730px;line-height:19px;height:19px;transform:scaleX(1.0467);font-size:15.2px;font-weight:400;color:#14142a;white-space:pre;-webkit-text-stroke:0.45px #14142a;">XLT</div>
<div class="t n" style="left:824.70px;top:723px"><i class="d">5</i><i class="q">’</i><i class="o">1</i><i class="o">1</i><i class="Q">”</i><i class="h">-</i><i class="d">6</i><i class="q">’</i><i class="o">1</i><i class="Q">”</i></div>
<div class="t n" style="left:827.55px;top:739px"><i class="o">1</i><i class="d">8</i><i class="d">0</i><i class="h">-</i><i class="o">1</i><i class="d">8</i><i class="d">5</i></div>
<div class="t n" style="left:930.45px;top:723px"><i class="o">1</i><i class="d">4</i><i class="d">5</i><i class="h">-</i><i class="o">1</i><i class="d">7</i><i class="d">5</i></div>
<div class="t n" style="left:937.05px;top:739px"><i class="d">6</i><i class="d">5</i><i class="h">-</i><i class="d">8</i><i class="d">0</i></div>
<div class="t" style="left:728.00px;top:776px;line-height:19px;height:19px;transform:scaleX(1.1247);font-size:15.2px;font-weight:400;color:#14142a;white-space:pre;-webkit-text-stroke:0.45px #14142a;">2XLS</div>
<div class="t n" style="left:822.47px;top:764px"><i class="d">5</i><i class="q">’</i><i class="d">9</i><i class="Q">”</i><i class="h">-</i><i class="d">5</i><i class="q">’</i><i class="o">1</i><i class="o">1</i><i class="Q">”</i></div>
<div class="t n" style="left:827.55px;top:786px"><i class="o">1</i><i class="d">7</i><i class="d">5</i><i class="h">-</i><i class="o">1</i><i class="d">8</i><i class="d">0</i></div>
<div class="t n" style="left:930.45px;top:766px"><i class="o">1</i><i class="d">5</i><i class="d">5</i><i class="h">-</i><i class="o">1</i><i class="d">8</i><i class="d">5</i></div>
<div class="t n" style="left:937.05px;top:784px"><i class="d">7</i><i class="d">0</i><i class="h">-</i><i class="d">8</i><i class="d">5</i></div>
<div class="t" style="left:728.00px;top:820px;line-height:19px;height:19px;transform:scaleX(1.1273);font-size:15.2px;font-weight:400;color:#14142a;white-space:pre;-webkit-text-stroke:0.45px #14142a;">2XL</div>
<div class="t n" style="left:824.70px;top:812px"><i class="d">5</i><i class="q">’</i><i class="o">1</i><i class="o">1</i><i class="Q">”</i><i class="h">-</i><i class="d">6</i><i class="q">’</i><i class="o">1</i><i class="Q">”</i></div>
<div class="t n" style="left:827.55px;top:828px"><i class="o">1</i><i class="d">8</i><i class="d">0</i><i class="h">-</i><i class="o">1</i><i class="d">8</i><i class="d">5</i></div>
<div class="t n" style="left:930.45px;top:812px"><i class="o">1</i><i class="d">5</i><i class="d">5</i><i class="h">-</i><i class="o">1</i><i class="d">8</i><i class="d">5</i></div>
<div class="t n" style="left:937.05px;top:828px"><i class="d">7</i><i class="d">0</i><i class="h">-</i><i class="d">8</i><i class="d">5</i></div>
<div class="t" style="left:728.00px;top:863px;line-height:19px;height:19px;transform:scaleX(1.1169);font-size:15.2px;font-weight:400;color:#14142a;white-space:pre;-webkit-text-stroke:0.45px #14142a;">2XLT</div>
<div class="t n" style="left:841.22px;top:854px"><i class="g">&gt;</i><i class="d">6</i><i class="q">’</i><i class="o">1</i><i class="Q">”</i></div>
<div class="t n" style="left:841.00px;top:870px"><i class="g">&gt;</i><i class="o">1</i><i class="d">8</i><i class="d">5</i></div>
<div class="t n" style="left:930.45px;top:854px"><i class="o">1</i><i class="d">5</i><i class="d">5</i><i class="h">-</i><i class="o">1</i><i class="d">8</i><i class="d">5</i></div>
<div class="t n" style="left:937.05px;top:870px"><i class="d">7</i><i class="d">0</i><i class="h">-</i><i class="d">8</i><i class="d">5</i></div>
<div class="t" style="left:728.00px;top:906px;line-height:19px;height:19px;transform:scaleX(1.1088);font-size:15.2px;font-weight:400;color:#14142a;white-space:pre;-webkit-text-stroke:0.45px #14142a;">3XL</div>
<div class="t n" style="left:841.22px;top:897px"><i class="g">&gt;</i><i class="d">6</i><i class="q">’</i><i class="o">1</i><i class="Q">”</i></div>
<div class="t n" style="left:841.00px;top:915px"><i class="g">&gt;</i><i class="o">1</i><i class="d">8</i><i class="d">5</i></div>
<div class="t n" style="left:939.05px;top:897px"><i class="g">&gt;</i><i class="o">1</i><i class="d">7</i><i class="d">5</i><i class="p">+</i></div>
<div class="t n" style="left:942.35px;top:915px"><i class="g">&gt;</i><i class="d">8</i><i class="d">0</i><i class="p">+</i></div>
<div class="t" style="left:728.00px;top:949px;line-height:19px;height:19px;transform:scaleX(1.1088);font-size:15.2px;font-weight:400;color:#14142a;white-space:pre;-webkit-text-stroke:0.45px #14142a;">4XL</div>
<div class="t n" style="left:841.22px;top:941px"><i class="g">&gt;</i><i class="d">6</i><i class="q">’</i><i class="o">1</i><i class="Q">”</i></div>
<div class="t n" style="left:841.00px;top:957px"><i class="g">&gt;</i><i class="o">1</i><i class="d">8</i><i class="d">5</i></div>
<div class="t n" style="left:939.05px;top:941px"><i class="g">&gt;</i><i class="o">1</i><i class="d">7</i><i class="d">5</i><i class="p">+</i></div>
<div class="t n" style="left:942.35px;top:957px"><i class="g">&gt;</i><i class="d">8</i><i class="d">0</i><i class="p">+</i></div>
<div class="t" style="left:184.40px;top:1072px;line-height:16px;height:16px;transform:scaleX(1.1287);font-size:12.6px;font-weight:400;color:#16161f;white-space:pre;-webkit-text-stroke:0.45px #16161f;">These charts are intended to act as a sizing guide. We recommend that all suits be tried on to ensure a perfect fit.</div>
<div class="t" style="left:184.40px;top:1089px;line-height:16px;height:16px;transform:scaleX(1.1323);font-size:12.6px;font-weight:400;color:#16161f;white-space:pre;-webkit-text-stroke:0.45px #16161f;">Wetsuit chart applies to the following: Exodry, Everdry 4, Evertech Breathable, NovaScotia Semi-dry, all Everflex wetsuits, Profile</div>
<div class="t" style="left:184.40px;top:1105px;line-height:16px;height:16px;transform:scaleX(1.1256);font-size:12.6px;font-weight:400;color:#16161f;white-space:pre;-webkit-text-stroke:0.45px #16161f;">0.5, Sport 7mm Semi-dry, Sport 2.5, 5, 7mm steamers, Oneflex wetsuits, Tropical Steamer, Everflex Skin Suit, Everflex Hooded Vest</div>
<div class="t" style="left:184.40px;top:1121px;line-height:16px;height:16px;transform:scaleX(1.1252);font-size:12.6px;font-weight:400;color:#16161f;white-space:pre;-webkit-text-stroke:0.45px #16161f;">5mm, Everflex Hooded Vest  2.5mm, Pyroflex Steamers &amp; Tops, Hybrid Jane, Hybrid shorty, Hybrid Shorts, Hybrid Cargo Shorts.</div>
<div class="t" style="left:191.30px;top:1179px;line-height:16px;height:16px;transform:scaleX(1.0369);font-size:12.6px;font-weight:400;color:#1c1c1c;-webkit-text-stroke:0.4px;">EXPOSURE PROTECTION<span style="color:#5b3f7d">/SIZE CHARTS</span></div>
</div>
</body>
</html>
